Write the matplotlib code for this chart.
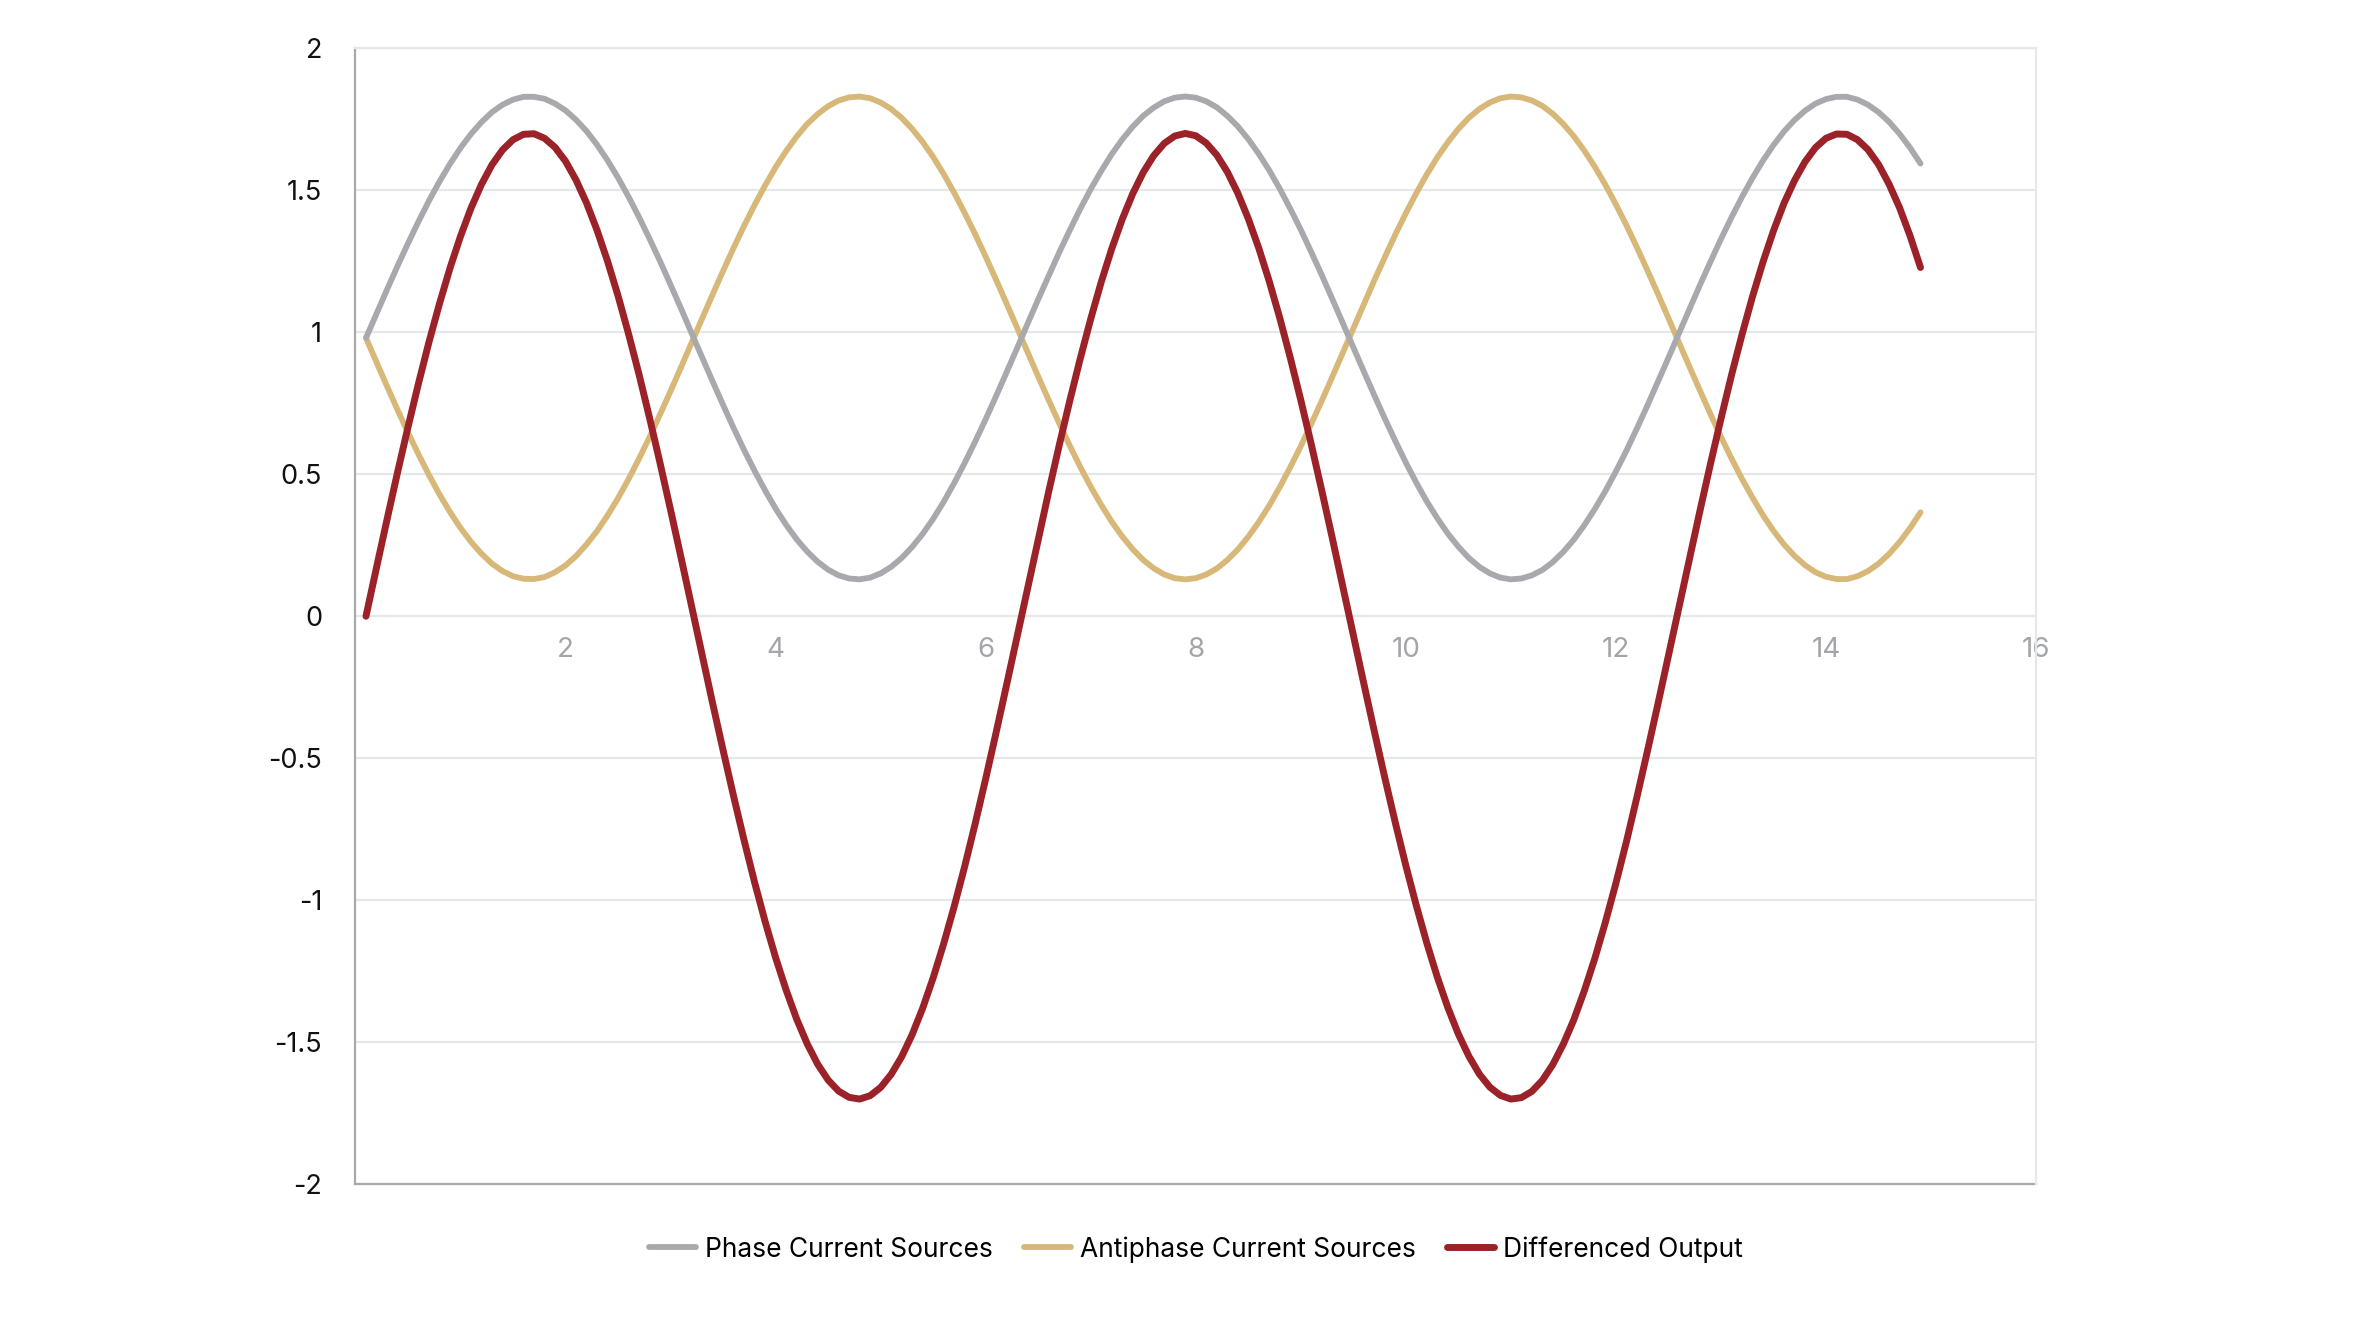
import matplotlib
matplotlib.use("Agg")
import matplotlib.pyplot as plt

x = [0.1, 0.2, 0.3, 0.4, 0.5, 0.6, 0.7, 0.8, 0.9, 1.0,
     1.1, 1.2, 1.3, 1.4, 1.5, 1.6, 1.7, 1.8, 1.9, 2.0,
     2.1, 2.2, 2.3, 2.4, 2.5, 2.6, 2.7, 2.8, 2.9, 3.0,
     3.1, 3.2, 3.3, 3.4, 3.5, 3.6, 3.7, 3.8, 3.9, 4.0,
     4.1, 4.2, 4.3, 4.4, 4.5, 4.6, 4.7, 4.8, 4.9, 5.0,
     5.1, 5.2, 5.3, 5.4, 5.5, 5.6, 5.7, 5.8, 5.9, 6.0,
     6.1, 6.2, 6.3, 6.4, 6.5, 6.6, 6.7, 6.8, 6.9, 7.0,
     7.1, 7.2, 7.3, 7.4, 7.5, 7.6, 7.7, 7.8, 7.9, 8.0,
     8.1, 8.2, 8.3, 8.4, 8.5, 8.6, 8.7, 8.8, 8.9, 9.0,
     9.1, 9.2, 9.3, 9.4, 9.5, 9.6, 9.7, 9.8, 9.9, 10.0,
     10.1, 10.2, 10.3, 10.4, 10.5, 10.6, 10.7, 10.8, 10.9, 11.0,
     11.1, 11.2, 11.3, 11.4, 11.5, 11.6, 11.7, 11.8, 11.9, 12.0,
     12.1, 12.2, 12.3, 12.4, 12.5, 12.6, 12.7, 12.8, 12.9, 13.0,
     13.1, 13.2, 13.3, 13.4, 13.5, 13.6, 13.7, 13.8, 13.9, 14.0,
     14.1, 14.2, 14.3, 14.4, 14.5, 14.6, 14.7, 14.8, 14.9]

phase = [0.980, 1.065, 1.150, 1.233, 1.313, 1.390, 1.463, 1.531, 1.593, 1.649,
         1.698, 1.740, 1.775, 1.801, 1.819, 1.829, 1.829, 1.822, 1.805, 1.781,
         1.748, 1.708, 1.660, 1.605, 1.544, 1.477, 1.405, 1.329, 1.250, 1.167,
         1.083, 0.997, 0.912, 0.827, 0.744, 0.663, 0.585, 0.512, 0.443, 0.379,
         0.322, 0.271, 0.228, 0.192, 0.164, 0.144, 0.133, 0.130, 0.136, 0.151,
         0.174, 0.205, 0.244, 0.290, 0.343, 0.403, 0.469, 0.540, 0.615, 0.694,
         0.776, 0.860, 0.945, 1.031, 1.116, 1.199, 1.281, 1.359, 1.434, 1.504,
         1.568, 1.627, 1.679, 1.724, 1.762, 1.791, 1.813, 1.826, 1.830, 1.826,
         1.813, 1.792, 1.762, 1.725, 1.680, 1.628, 1.570, 1.505, 1.435, 1.361,
         1.282, 1.201, 1.117, 1.032, 0.947, 0.862, 0.778, 0.696, 0.617, 0.541,
         0.470, 0.404, 0.345, 0.291, 0.245, 0.205, 0.174, 0.151, 0.136, 0.130,
         0.133, 0.144, 0.163, 0.191, 0.227, 0.270, 0.321, 0.378, 0.441, 0.510,
         0.583, 0.661, 0.742, 0.826, 0.910, 0.996, 1.081, 1.166, 1.248, 1.328,
         1.404, 1.476, 1.543, 1.604, 1.659, 1.707, 1.747, 1.780, 1.805, 1.821,
         1.829, 1.829, 1.819, 1.801, 1.775, 1.741, 1.699, 1.650, 1.594]

antiphase = [0.980, 0.895, 0.810, 0.727, 0.647, 0.570, 0.497, 0.429, 0.367, 0.311,
             0.262, 0.220, 0.185, 0.159, 0.141, 0.132, 0.131, 0.138, 0.155, 0.179,
             0.212, 0.253, 0.300, 0.355, 0.416, 0.483, 0.555, 0.631, 0.711, 0.793,
             0.877, 0.963, 1.048, 1.133, 1.216, 1.297, 1.375, 1.448, 1.517, 1.581,
             1.638, 1.689, 1.733, 1.768, 1.796, 1.816, 1.827, 1.830, 1.824, 1.809,
             1.786, 1.755, 1.716, 1.670, 1.617, 1.557, 1.491, 1.420, 1.345, 1.266,
             1.184, 1.100, 1.015, 0.929, 0.844, 0.761, 0.679, 0.601, 0.526, 0.456,
             0.392, 0.333, 0.281, 0.236, 0.198, 0.169, 0.147, 0.134, 0.130, 0.134,
             0.147, 0.168, 0.198, 0.235, 0.280, 0.332, 0.390, 0.455, 0.525, 0.599,
             0.678, 0.759, 0.843, 0.928, 1.013, 1.098, 1.183, 1.264, 1.344, 1.419,
             1.490, 1.556, 1.616, 1.669, 1.716, 1.755, 1.786, 1.809, 1.824, 1.830,
             1.827, 1.816, 1.797, 1.769, 1.733, 1.690, 1.639, 1.582, 1.519, 1.450,
             1.377, 1.299, 1.218, 1.135, 1.050, 0.964, 0.879, 0.795, 0.712, 0.632,
             0.556, 0.484, 0.418, 0.356, 0.301, 0.253, 0.213, 0.180, 0.155, 0.139,
             0.131, 0.131, 0.141, 0.159, 0.185, 0.219, 0.261, 0.310, 0.366]

differenced = [0.000, 0.171, 0.340, 0.506, 0.666, 0.820, 0.966, 1.101, 1.226, 1.338,
               1.437, 1.521, 1.590, 1.642, 1.678, 1.697, 1.699, 1.683, 1.651, 1.602,
               1.536, 1.455, 1.359, 1.250, 1.128, 0.994, 0.851, 0.698, 0.539, 0.374,
               0.206, 0.035, -0.136, -0.306, -0.472, -0.634, -0.789, -0.937, -1.075, -1.202,
               -1.316, -1.418, -1.505, -1.577, -1.633, -1.672, -1.694, -1.700, -1.688, -1.659,
               -1.613, -1.551, -1.473, -1.380, -1.273, -1.153, -1.022, -0.881, -0.730, -0.572,
               -0.408, -0.240, -0.070, 0.101, 0.271, 0.439, 0.602, 0.758, 0.907, 1.047,
               1.177, 1.294, 1.398, 1.488, 1.563, 1.622, 1.665, 1.691, 1.700, 1.692,
               1.666, 1.624, 1.565, 1.490, 1.400, 1.296, 1.179, 1.050, 0.910, 0.761,
               0.605, 0.442, 0.275, 0.105, -0.066, -0.237, -0.405, -0.569, -0.727, -0.878,
               -1.019, -1.151, -1.271, -1.378, -1.471, -1.549, -1.612, -1.658, -1.687, -1.700,
               -1.695, -1.673, -1.634, -1.578, -1.506, -1.420, -1.318, -1.204, -1.077, -0.940,
               -0.794, -0.637, -0.475, -0.309, -0.139, 0.032, 0.202, 0.371, 0.536, 0.695,
               0.848, 0.991, 1.125, 1.247, 1.357, 1.454, 1.534, 1.600, 1.650, 1.683,
               1.698, 1.697, 1.678, 1.643, 1.591, 1.522, 1.439, 1.340, 1.228]

series_names = ["Phase Current Sources", "Antiphase Current Sources", "Differenced Output"]
x_ticks = [2, 4, 6, 8, 10, 12, 14, 16]
y_ticks = [-2, -1.5, -1, -0.5, 0, 0.5, 1, 1.5, 2]
y_tick_labels = ["-2", "-1.5", "-1", "-0.5", "0", "0.5", "1", "1.5", "2"]

GRAY = "#a7a9ac"
TAN = "#d8b878"
RED = "#9b2228"
GRID = "#e5e8e8"

plt.rcParams["font.family"] = ["Inter", "DejaVu Sans"]

fig = plt.figure(figsize=(23.62, 13.29), dpi=100)
ax = fig.add_axes([0.1505, 0.1089, 0.862 - 0.1505, 0.9637 - 0.1089])

l_ph, = ax.plot(x, phase, color=GRAY, lw=4.2, solid_capstyle="round",
                solid_joinstyle="round", zorder=3, label=series_names[0])
l_an, = ax.plot(x, antiphase, color=TAN, lw=4.2, solid_capstyle="round",
                solid_joinstyle="round", zorder=2, label=series_names[1])
l_df, = ax.plot(x, differenced, color=RED, lw=5.0, solid_capstyle="round",
                solid_joinstyle="round", zorder=4, label=series_names[2])

ax.set_xlim(0, 16)
ax.set_ylim(-2, 2)

ax.set_yticks(y_ticks)
ax.set_yticklabels(y_tick_labels)
ax.set_yticks([-2, 2], minor=True)
ax.set_xticks(x_ticks)
ax.set_xticklabels([str(v) for v in x_ticks])

ax.grid(axis="y", color=GRID, lw=1.6, zorder=0)
ax.set_axisbelow(True)

ax.spines["left"].set_color(GRAY)
ax.spines["left"].set_linewidth(1.6)
ax.spines["right"].set_color(GRID)
ax.spines["right"].set_linewidth(1.6)
ax.spines["top"].set_color(GRID)
ax.spines["top"].set_linewidth(1.6)
ax.spines["bottom"].set_position(("data", 0))
ax.spines["bottom"].set_visible(False)

# bottom frame line at y=-2
ax.axhline(-2, color=GRAY, lw=1.6, zorder=1, clip_on=False)

ax.tick_params(axis="y", which="major", length=0, pad=24, labelsize=19.5, labelcolor="#111111")
ax.tick_params(axis="y", which="minor", length=12, width=1.6, color=GRAY)
ax.tick_params(axis="x", length=0, pad=15, labelsize=20, labelcolor="#a3a5a8")

fig.legend(handles=[l_ph, l_an, l_df], loc="center",
           bbox_to_anchor=(0.5063, 0.0600), ncol=3, frameon=False,
           fontsize=19, handlelength=1.8, handletextpad=0.35, columnspacing=1.15)

fig.savefig("out.png", dpi=100, facecolor="white")
